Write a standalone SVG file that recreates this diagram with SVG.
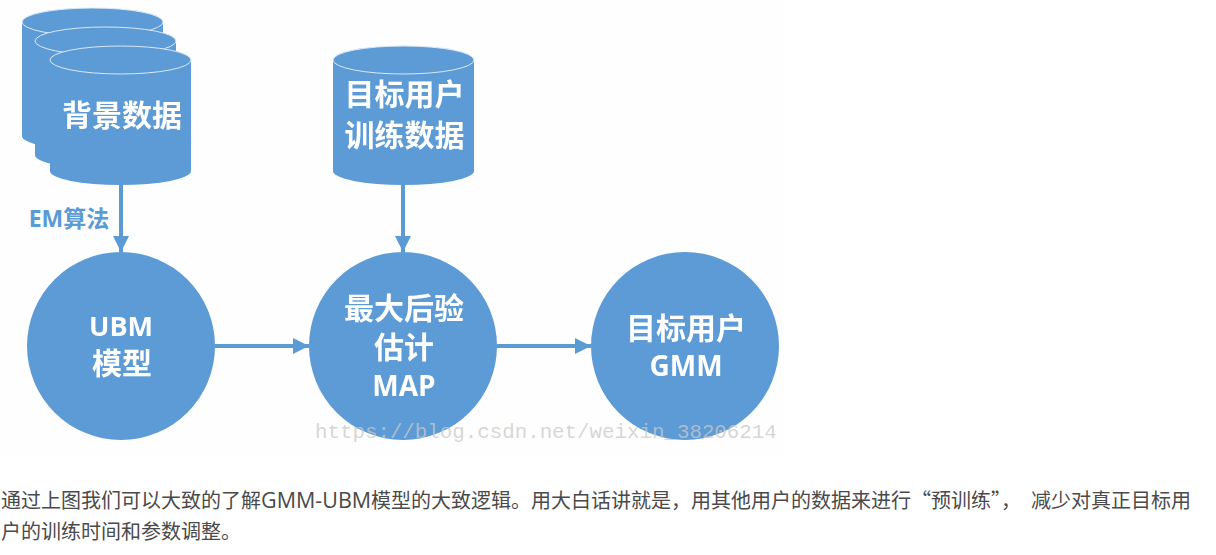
<svg xmlns="http://www.w3.org/2000/svg" width="1216" height="555" viewBox="0 0 1216 555">
<style>
.cyl{fill:#5b9bd5}
.top{fill:#5b9bd5;stroke:#dbe8f5;stroke-width:1}
.w{fill:#fff;font-family:"Open Sans","Noto Sans CJK SC",sans-serif;font-weight:700;text-anchor:middle}
.p{fill:#4a4a4a;font-family:"Noto Sans CJK SC","Open Sans",sans-serif;font-size:20px}
.l{font-family:"Open Sans","Noto Sans CJK SC",sans-serif;font-size:21.500px}
.c{stroke:#5b9bd5;stroke-width:4;fill:none;marker-end:url(#a)}
</style>
<defs><marker id="a" markerUnits="userSpaceOnUse" markerWidth="16" markerHeight="16" refX="16" refY="8" orient="auto"><path d="M0 0L16 8L0 16Z" fill="#5b9bd5"/></marker>
<filter id="b" x="-5%" y="-5%" width="110%" height="110%"><feGaussianBlur stdDeviation="0.6"/></filter></defs>
<rect width="784" height="455" fill="#fefefe"/>
<g id="background-data" filter="url(#b)">
<path class="cyl" d="M22 22V136A70.500 14 0 0 0 163 136V22Z"/><ellipse class="top" cx="92.500" cy="22" rx="70.500" ry="14"/>
<path class="cyl" d="M35 41V155A70.500 14 0 0 0 176 155V41Z"/><ellipse class="top" cx="105.500" cy="41" rx="70.500" ry="14"/>
<path class="cyl" d="M50 60V171A70.500 14 0 0 0 191 171V60Z"/><ellipse class="top" cx="120.500" cy="60" rx="70.500" ry="14"/>
<text class="w" x="122" y="126" font-size="30">背景数据</text>
</g>
<g id="target-data" filter="url(#b)">
<path class="cyl" d="M333 60V171A70.500 14 0 0 0 474 171V60Z"/><ellipse class="top" cx="403.500" cy="60" rx="70.500" ry="14"/>
<text class="w" x="404.500" y="105" font-size="30">目标用户</text>
<text class="w" x="404.500" y="146" font-size="30">训练数据</text>
</g>
<g id="connectors">
<path class="c" d="M121 185V252"/><path class="c" d="M403 185V252"/><path class="c" d="M215 346H309"/><path class="c" d="M497 346H591"/>
</g>
<text x="69" y="227" font-size="23" font-weight="700" fill="#5b9bd5" text-anchor="middle" font-family="Open Sans,Noto Sans CJK SC,sans-serif">EM算法</text>
<g id="ubm" filter="url(#b)"><circle class="cyl" cx="121" cy="346" r="94"/>
<text class="w" x="121" y="336" font-size="27">UBM</text><text class="w" x="122" y="374" font-size="30">模型</text></g>
<g id="map" filter="url(#b)"><circle class="cyl" cx="403" cy="346" r="94"/>
<text class="w" x="404" y="319" font-size="30">最大后验</text><text class="w" x="404" y="358" font-size="30">估计</text><text class="w" x="404" y="396" font-size="28">MAP</text></g>
<g id="gmm" filter="url(#b)"><circle class="cyl" cx="685" cy="346" r="94"/>
<text class="w" x="686" y="339" font-size="30">目标用户</text><text class="w" x="686" y="376" font-size="28">GMM</text></g>
<text x="315" y="438" font-size="20.800" fill="#c9c9c9" fill-opacity=".75" font-family="Liberation Mono,DejaVu Sans Mono,monospace">https://blog.csdn.net/weixin_38206214</text>
<text class="p" x="1" y="508">通过上图我们可以大致的了解<tspan class="l" x="261">GMM-UBM</tspan><tspan x="371">模型的大致逻辑。用大白话讲就是，用其他用户的数据来进行“预训练”，</tspan><tspan x="1031">减少对真正目标用</tspan></text>
<text class="p" x="1" y="539">户的训练时间和参数调整。</text>
</svg>
